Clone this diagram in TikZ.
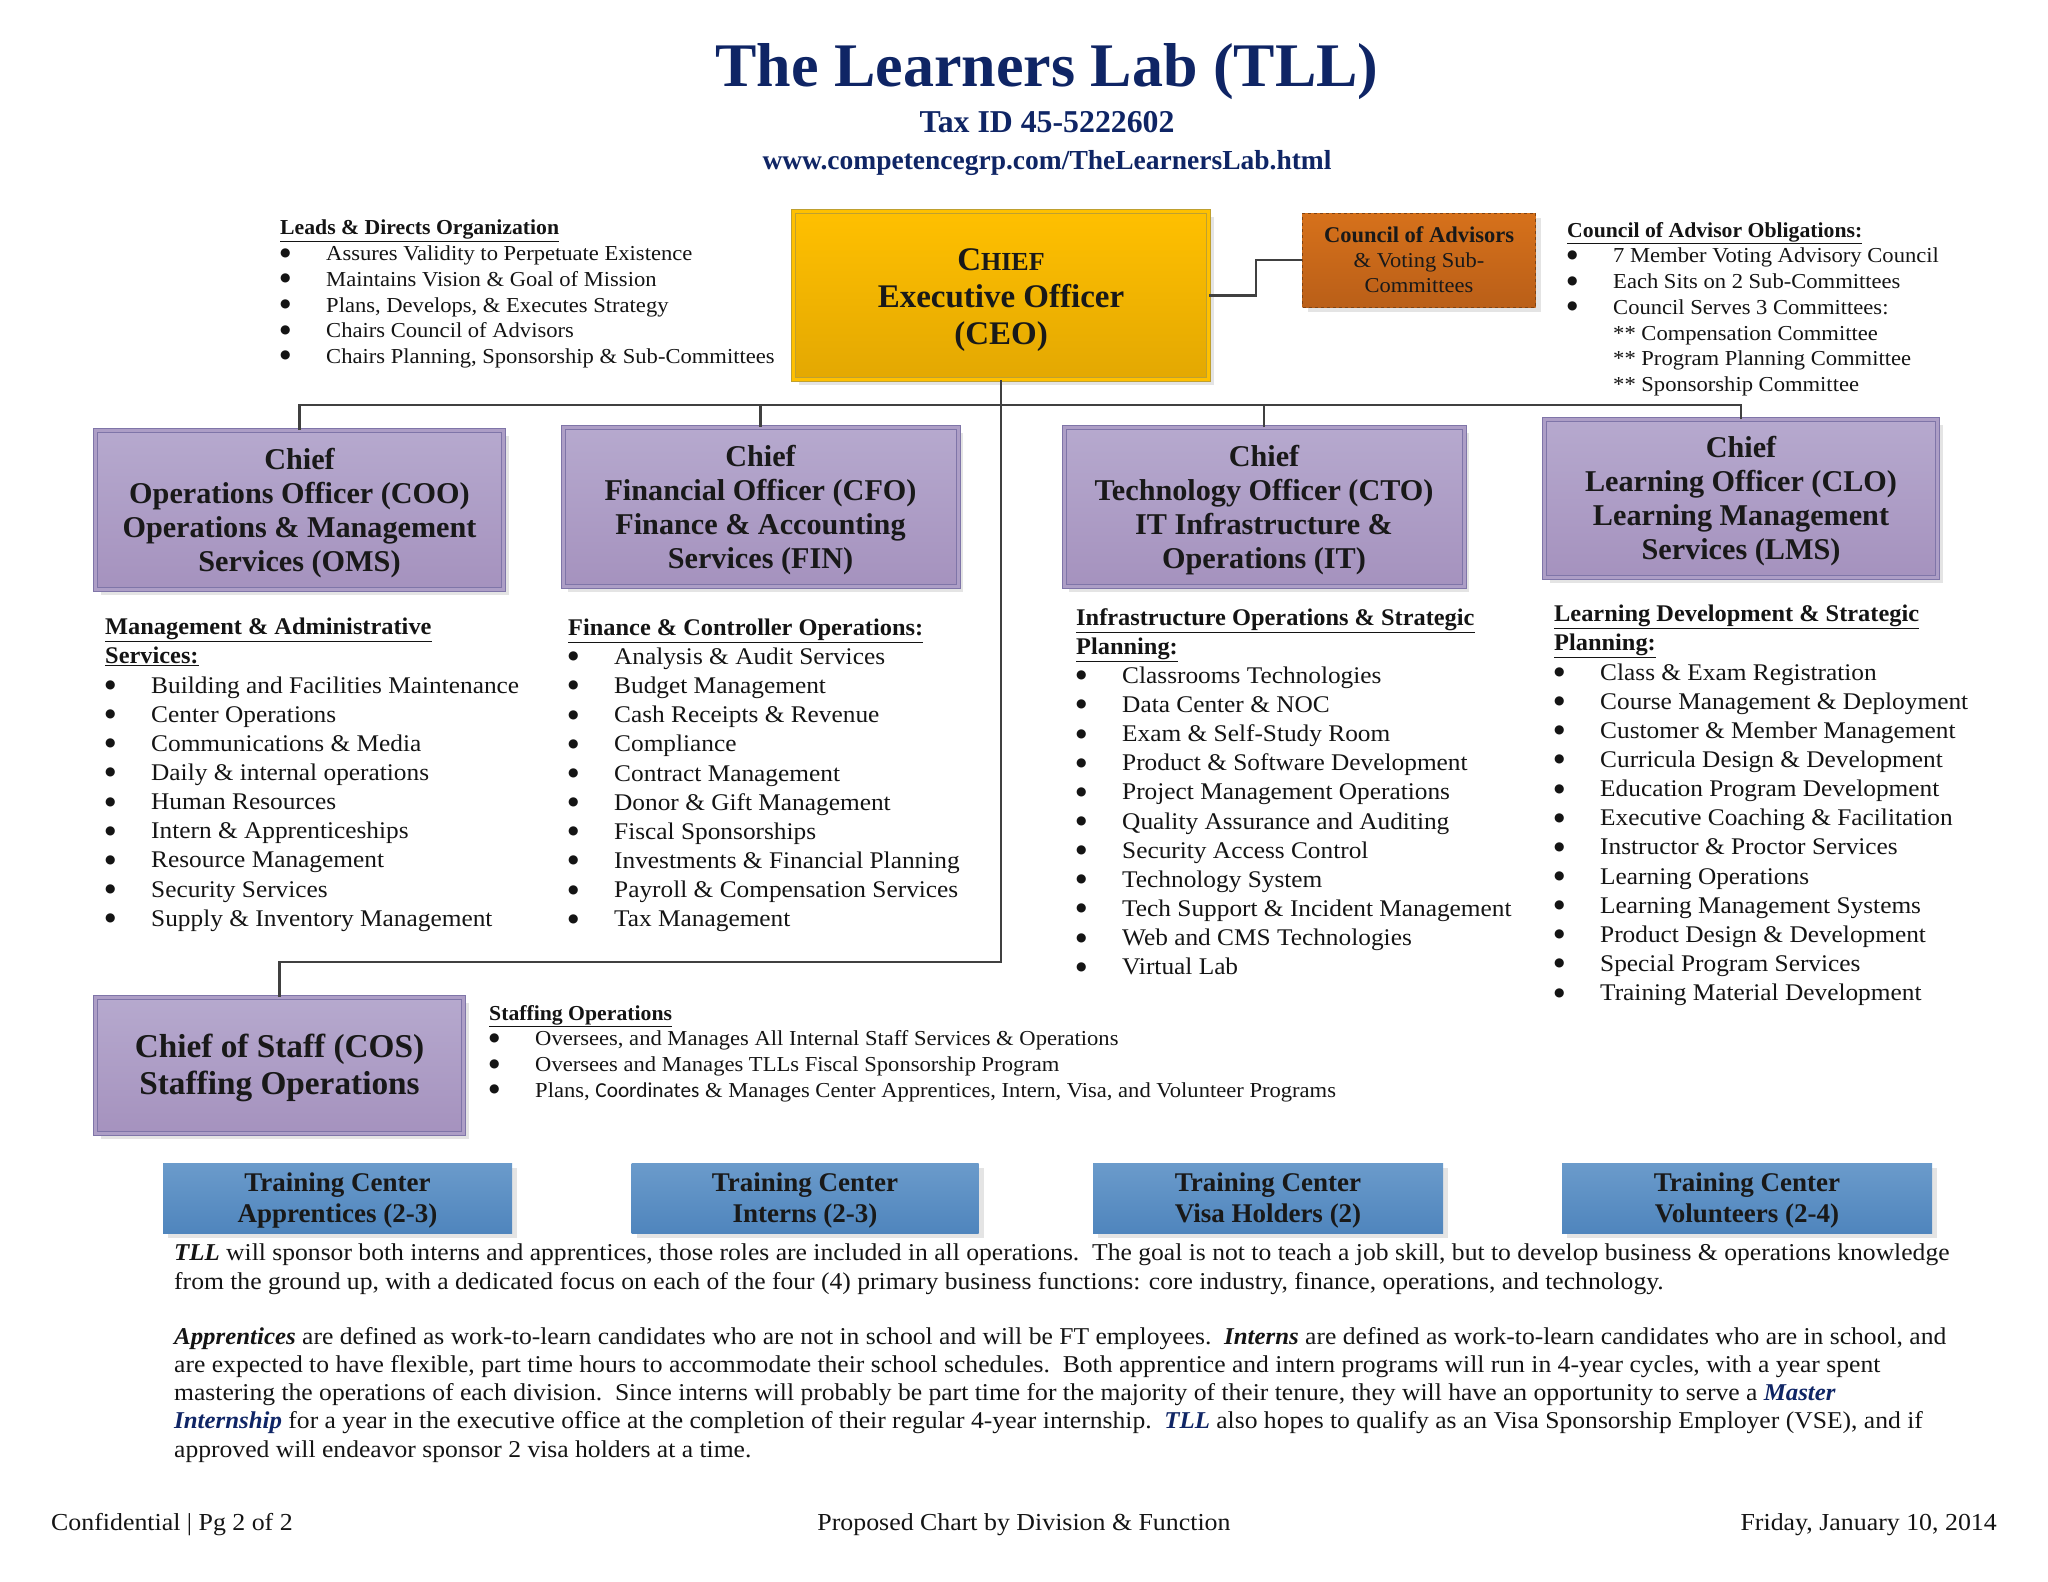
\documentclass[tikz,border=0pt]{standalone}
\usepackage{fontspec}
\setmainfont[FakeStretch=1.06, BoldFeatures={FakeStretch=1.0}, BoldItalicFeatures={FakeStretch=1.03}]{Liberation Serif}
\newfontfamily\headfont[FakeStretch=1.02, BoldFeatures={FakeStretch=1.02}]{Liberation Serif}
\newfontfamily\califont{Carlito}
\newfontfamily\dotfont{DejaVu Sans}
\usetikzlibrary{shadows}
\definecolor{navytitle}{HTML}{0F2565}
\definecolor{wiregray}{HTML}{404040}
\newcommand{\bul}[1]{\makebox[46pt][l]{\raisebox{4.6pt}{\dotfont\fontsize{12}{12}\selectfont ●}}#1}
\newcommand{\head}[1]{{\headfont\bfseries\underline{#1}}}
\newcommand{\bi}[1]{\textbf{\textit{#1}}}
\newcommand{\nv}[1]{\textcolor{navytitle}{\textbf{\textit{#1}}}}
\newcommand{\lift}[1]{\rule{0pt}{#1}}
\tikzset{
  softshadow/.style={drop shadow={shadow xshift=5pt, shadow yshift=-5pt, fill=black!30, opacity=.35}},
  purplebox/.style={rectangle, softshadow, align=center, inner sep=0pt, text=black!90, line width=1pt, double distance=3pt,
    draw=purpleline, double=purplemid, top color=purpletop, bottom color=purplebot,
    font=\fontsize{30.2}{34}\selectfont\bfseries},
  textblock/.style={anchor=north west, align=left, inner sep=0pt, text=black!92},
  smalllist/.style={textblock, font=\fontsize{21.3}{25.7}\selectfont},
  biglist/.style={textblock, font=\fontsize{23.9}{29.15}\selectfont},
  paragraph/.style={textblock, font=\fontsize{24.15}{28.2}\selectfont},
  footer/.style={inner sep=0pt, text=black!92, font=\fontsize{24.4}{28}\selectfont},
  titleline/.style={inner sep=0pt, text=navytitle, font=\bfseries},
  wire/.style={draw=wiregray, line width=2.5pt},
  trainbox/.style={rectangle, softshadow, align=center, inner sep=0pt, minimum height=70pt, top color=bluetop, bottom color=bluebot,
    text=black!90, font=\fontsize{27}{31}\selectfont\bfseries}
}
\definecolor{purpleline}{HTML}{7F75A8}
\definecolor{purpletop}{HTML}{B6A9CE}
\definecolor{purplebot}{HTML}{A592BE}
\definecolor{purplemid}{HTML}{AD9EC6}
\definecolor{goldtop}{HTML}{FFC000}
\definecolor{goldbot}{HTML}{E3A802}
\definecolor{goldline}{HTML}{BFA030}
\definecolor{rusttop}{HTML}{D6711B}
\definecolor{rustbot}{HTML}{BA5F18}
\definecolor{bluetop}{HTML}{6B9BCB}
\definecolor{bluebot}{HTML}{4F85BD}
\begin{document}
\begin{tikzpicture}[x=1pt, y=-1pt]
	\useasboundingbox (0,0) rectangle (2048,1582);

	% heading
	\node[titleline, font=\fontsize{62}{70}\selectfont\bfseries] (title) at (1047,72) {The Learners Lab (TLL)};
	\node[titleline, font=\fontsize{31.8}{34}\selectfont\bfseries] (taxid) at (1047,122) {Tax ID 45-5222602};
	\node[titleline, font=\fontsize{27.5}{30}\selectfont\bfseries] (site) at (1047,163) {www.competencegrp.com/TheLearnersLab.html};

	% chiefs
	\node[rectangle, softshadow, align=center, inner sep=0pt, line width=1pt, double distance=3pt, draw=goldline, double=goldtop,
		top color=goldtop, bottom color=goldbot, minimum width=415pt, minimum height=168pt, text=black!90,
		font=\fontsize{33}{37}\selectfont\bfseries] (ceo) at (1001,295.5) {\lift{31pt}C{\fontsize{26}{37}\selectfont HIEF}\\Executive Officer\\(CEO)};
	\node[rectangle, softshadow, align=center, inner sep=0pt, dashed, draw=rustbot!70!black, top color=rusttop, bottom color=rustbot,
		minimum width=233pt, minimum height=94pt, text=black!90, font=\fontsize{22.5}{25}\selectfont] (council) at (1419,260)
		{\textbf{Council of Advisors}\\{\fontsize{21.2}{25}\selectfont\& Voting Sub-}\\{\fontsize{21.2}{25}\selectfont Committees}};

	\node[purplebox, minimum width=408pt, minimum height=159pt] (coo) at (299.5,510) {\lift{27pt}Chief\\Operations Officer (COO)\\Operations \& Management\\Services (OMS)};
	\node[purplebox, minimum width=395pt, minimum height=159pt] (cfo) at (760.5,507) {\lift{27pt}Chief\\Financial Officer (CFO)\\Finance \& Accounting\\Services (FIN)};
	\node[purplebox, minimum width=400pt, minimum height=159pt] (cto) at (1264,507) {\lift{27pt}Chief\\Technology Officer (CTO)\\IT Infrastructure \&\\Operations (IT)};
	\node[purplebox, minimum width=393pt, minimum height=158pt] (clo) at (1741,498.5) {\lift{27pt}Chief\\Learning Officer (CLO)\\Learning Management\\Services (LMS)};
	\node[purplebox, minimum width=368pt, minimum height=136pt, font=\fontsize{33.3}{37}\selectfont\bfseries] (cos) at (279.5,1065.5) {\lift{29pt}Chief of Staff (COS)\\Staffing Operations};

	% training centers
	\node[trainbox, minimum width=349pt] (apprentices) at (337.5,1198) {\lift{24pt}Training Center\\Apprentices (2-3)};
	\node[trainbox, minimum width=347pt] (interns) at (805,1198) {\lift{24pt}Training Center\\Interns (2-3)};
	\node[trainbox, minimum width=350pt] (visa) at (1268,1198) {\lift{24pt}Training Center\\Visa Holders (2)};
	\node[trainbox, minimum width=370pt] (volunteers) at (1747,1198) {\lift{24pt}Training Center\\Volunteers (2-4)};

	% connectors
	\coordinate (bus) at (1001,405);
	\coordinate (drop) at (1001,962);
	\draw[wire] (ceo.south) -- (drop) -| (cos.north);
	\draw[wire] (coo.north) |- (bus);
	\draw[wire] (cfo.north) |- (bus);
	\draw[wire] (cto.north) |- (bus);
	\draw[wire] (clo.north) |- (bus);
	\draw[wire] (ceo.east) -- ++(47,0) |- (council.west);

	% lists
	\node[smalllist] (ceolist) at (280,220) {\head{Leads \& Directs Organization}\\
		\bul{Assures Validity to Perpetuate Existence}\\
		\bul{Maintains Vision \& Goal of Mission}\\
		\bul{Plans, Develops, \& Executes Strategy}\\
		\bul{Chairs Council of Advisors}\\
		\bul{Chairs Planning, Sponsorship \& Sub-Committees}};
	\node[smalllist] (councillist) at (1567,222) {\head{Council of Advisor Obligations:}\\
		\bul{7 Member Voting Advisory Council}\\
		\bul{Each Sits on 2 Sub-Committees}\\
		\bul{Council Serves 3 Committees:}\\
		\hspace*{46pt}** Compensation Committee\\
		\hspace*{46pt}** Program Planning Committee\\
		\hspace*{46pt}** Sponsorship Committee};
	\node[biglist] (coolist) at (105,618) {\head{Management \& Administrative}\\\head{Services:}\\
		\bul{Building and Facilities Maintenance}\\
		\bul{Center Operations}\\
		\bul{Communications \& Media}\\
		\bul{Daily \& internal operations}\\
		\bul{Human Resources}\\
		\bul{Intern \& Apprenticeships}\\
		\bul{Resource Management}\\
		\bul{Security Services}\\
		\bul{Supply \& Inventory Management}};
	\node[biglist] (cfolist) at (568,618.5) {\head{Finance \& Controller Operations:}\\
		\bul{Analysis \& Audit Services}\\
		\bul{Budget Management}\\
		\bul{Cash Receipts \& Revenue}\\
		\bul{Compliance}\\
		\bul{Contract Management}\\
		\bul{Donor \& Gift Management}\\
		\bul{Fiscal Sponsorships}\\
		\bul{Investments \& Financial Planning}\\
		\bul{Payroll \& Compensation Services}\\
		\bul{Tax Management}};
	\node[biglist] (ctolist) at (1076,608) {\head{Infrastructure Operations \& Strategic}\\\head{Planning:}\\
		\bul{Classrooms Technologies}\\
		\bul{Data Center \& NOC}\\
		\bul{Exam \& Self-Study Room}\\
		\bul{Product \& Software Development}\\
		\bul{Project Management Operations}\\
		\bul{Quality Assurance and Auditing}\\
		\bul{Security Access Control}\\
		\bul{Technology System}\\
		\bul{Tech Support \& Incident Management}\\
		\bul{Web and CMS Technologies}\\
		\bul{Virtual Lab}};
	\node[biglist] (clolist) at (1554,605) {\head{Learning Development \& Strategic}\\\head{Planning:}\\
		\bul{Class \& Exam Registration}\\
		\bul{Course Management \& Deployment}\\
		\bul{Customer \& Member Management}\\
		\bul{Curricula Design \& Development}\\
		\bul{Education Program Development}\\
		\bul{Executive Coaching \& Facilitation}\\
		\bul{Instructor \& Proctor Services}\\
		\bul{Learning Operations}\\
		\bul{Learning Management Systems}\\
		\bul{Product Design \& Development}\\
		\bul{Special Program Services}\\
		\bul{Training Material Development}};
	\node[smalllist] (coslist) at (489,1005) {\head{Staffing Operations}\\
		\bul{Oversees, and Manages All Internal Staff Services \& Operations}\\
		\bul{Oversees and Manages TLLs Fiscal Sponsorship Program}\\
		\bul{Plans, {\califont Coordinates} \& Manages Center Apprentices, Intern, Visa, and Volunteer Programs}};

	% notes
	\node[paragraph] (sponsor) at (174,1244) {\bi{TLL} will sponsor both interns and apprentices, those roles are included in all operations.\ \ The goal is not to teach a job skill, but to develop business \& operations knowledge\\
		from the ground up, with a dedicated focus on each of the four (4) primary business functions: core industry, finance, operations, and technology.};
	\node[paragraph] (defined) at (174,1327) {\bi{Apprentices} are defined as work-to-learn candidates who are not in school and will be FT employees.\ \ \bi{Interns} are defined as work-to-learn candidates who are in school, and\\
		are expected to have flexible, part time hours to accommodate their school schedules.\ \ Both apprentice and intern programs will run in 4-year cycles, with a year spent\\
		mastering the operations of each division.\ \ Since interns will probably be part time for the majority of their tenure, they will have an opportunity to serve a \nv{Master}\\
		\nv{Internship} for a year in the executive office at the completion of their regular 4-year internship.\ \ \nv{TLL} also hopes to qualify as an Visa Sponsorship Employer (VSE), and if\\
		approved will endeavor sponsor 2 visa holders at a time.};

	% footer
	\node[footer, anchor=west] (confidential) at (51,1525) {Confidential | Pg 2 of 2};
	\node[footer] (proposed) at (1024,1525) {Proposed Chart by Division \& Function};
	\node[footer, anchor=east] (date) at (1997,1525) {Friday, January 10, 2014};
\end{tikzpicture}
\end{document}
